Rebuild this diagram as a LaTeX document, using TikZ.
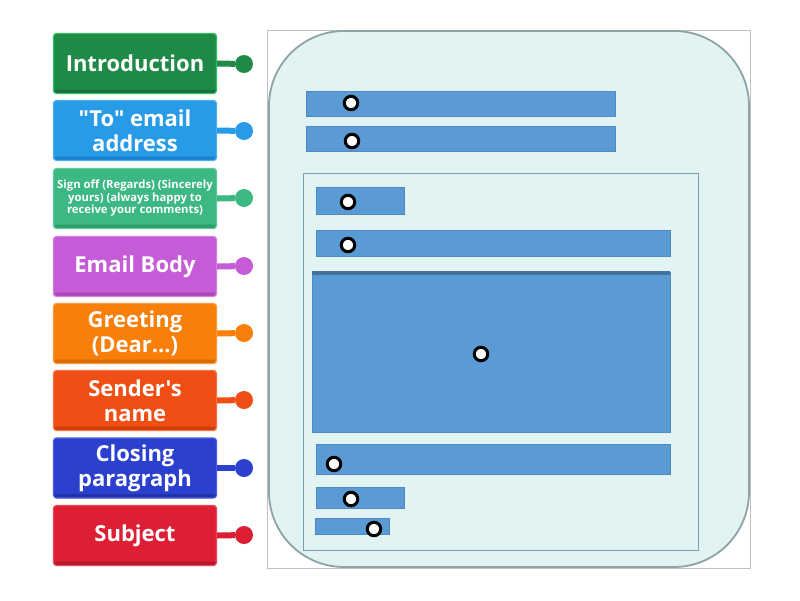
\documentclass[tikz,border=0pt]{standalone}
\usepackage{fontspec}
\setmainfont{Open Sans}[Ligatures=TeXOff]
\begin{document}
\begin{tikzpicture}[x=1pt,y=-1pt,
  lbl/.style args={#1/#2/#3}{draw=#2, line width=1.2pt, fill=#1, rounded corners=3pt,
    minimum width=163pt, minimum height=60pt, inner sep=2pt, text=white,
    font=\bfseries\fontsize{22}{25}\selectfont, align=center,
    path picture={\fill[#3] ([yshift=4pt]path picture bounding box.south west) rectangle (path picture bounding box.south east);}},
  pin/.style={circle, fill=#1, minimum size=18pt, inner sep=0pt},
  link/.style={line width=6pt, draw=#1},
  bar/.style={fill=barblue, draw=barline, line width=0.6pt},
  dot/.style={circle, draw=black, line width=3pt, fill=white, minimum size=13.5pt, inner sep=0pt}
]
\definecolor{barblue}{HTML}{5B9BD5}
\definecolor{barline}{HTML}{4F89C0}
\definecolor{bartop}{HTML}{41719C}
\definecolor{panel}{HTML}{E2F3F4}
\definecolor{panelline}{HTML}{8EA3A3}
\definecolor{innerline}{HTML}{7F9BB0}
\definecolor{cA}{HTML}{1F8A47}\definecolor{cAl}{HTML}{2FBF62}\definecolor{cAd}{HTML}{18703A}
\definecolor{cB}{HTML}{279BE8}\definecolor{cBl}{HTML}{4FB0F0}\definecolor{cBd}{HTML}{1A7FCF}
\definecolor{cC}{HTML}{3CB883}\definecolor{cCl}{HTML}{5ACB98}\definecolor{cCd}{HTML}{2F9A6C}
\definecolor{cD}{HTML}{C55BD6}\definecolor{cDl}{HTML}{D47FE0}\definecolor{cDd}{HTML}{A846B8}
\definecolor{cE}{HTML}{F77F0A}\definecolor{cEl}{HTML}{FB9A3B}\definecolor{cEd}{HTML}{D96A00}
\definecolor{cF}{HTML}{F04E14}\definecolor{cFl}{HTML}{F87244}\definecolor{cFd}{HTML}{CC3D0A}
\definecolor{cG}{HTML}{2B40CF}\definecolor{cGl}{HTML}{4A5FE0}\definecolor{cGd}{HTML}{2232A8}
\definecolor{cH}{HTML}{DC1F35}\definecolor{cHl}{HTML}{E5485A}\definecolor{cHd}{HTML}{B5182A}

\useasboundingbox (0,0) rectangle (800,600);
\fill[white] (0,0) rectangle (800,600);

% outer frame and panel
\draw[draw=black!25, line width=0.8pt] (267,30) rectangle (750,568);
\draw[fill=panel, draw=panelline, line width=1.8pt, rounded corners=75pt] (269,31) rectangle (749,567);
\draw[draw=innerline, line width=0.8pt] (303,173) rectangle (698,550);

% bars
\draw[bar] (306,91) rectangle (615,116);
\draw[bar] (306,126) rectangle (615,151);
\draw[bar] (316,187) rectangle (404,214);
\draw[bar] (316,230) rectangle (670,256);
\draw[bar] (312,272) rectangle (670,432);
\fill[bartop] (312,271) rectangle (670,274.5);
\draw[bar] (316,444) rectangle (670,474);
\draw[bar] (316,487) rectangle (404,508);
\draw[bar] (315,518) rectangle (389,534);

% dots
\node[dot] (d1) at (351,103) {};
\node[dot] (d2) at (352,141) {};
\node[dot] (d3) at (348,202) {};
\node[dot] (d4) at (348,245) {};
\node[dot] (d5) at (481,354) {};
\node[dot] (d6) at (334,464) {};
\node[dot] (d7) at (351,499) {};
\node[dot] (d8) at (374,529) {};

% labels
\node[lbl=cA/cAl/cAd] (l1) at (135,63.5) {Introduction};
\node[lbl=cB/cBl/cBd] (l2) at (135,130.5) {"To" email\\address};
\node[lbl=cC/cCl/cCd, font=\bfseries\fontsize{11.3}{12.5}\selectfont] (l3) at (135,198.5) {Sign off (Regards) (Sincerely\\yours) (always happy to\\receive your comments)};
\node[lbl=cD/cDl/cDd] (l4) at (135,266.5) {Email Body};
\node[lbl=cE/cEl/cEd] (l5) at (135,333.5) {Greeting\\(Dear...)};
\node[lbl=cF/cFl/cFd] (l6) at (135,400.5) {Sender's\\name};
\node[lbl=cG/cGl/cGd] (l7) at (135,468) {Closing\\paragraph};
\node[lbl=cH/cHl/cHd] (l8) at (135,535.5) {Subject};

% pins
\node[pin=cA] (p1) at (244,64) {};
\node[pin=cB] (p2) at (244,131) {};
\node[pin=cC] (p3) at (244,198) {};
\node[pin=cD] (p4) at (244,266) {};
\node[pin=cE] (p5) at (244,333) {};
\node[pin=cF] (p6) at (244,400) {};
\node[pin=cG] (p7) at (244,468) {};
\node[pin=cH] (p8) at (244,535) {};

\draw[link=cA] (l1.east) -- (p1);
\draw[link=cB] (l2.east) -- (p2);
\draw[link=cC] (l3.east) -- (p3);
\draw[link=cD] (l4.east) -- (p4);
\draw[link=cE] (l5.east) -- (p5);
\draw[link=cF] (l6.east) -- (p6);
\draw[link=cG] (l7.east) -- (p7);
\draw[link=cH] (l8.east) -- (p8);
\end{tikzpicture}
\end{document}
